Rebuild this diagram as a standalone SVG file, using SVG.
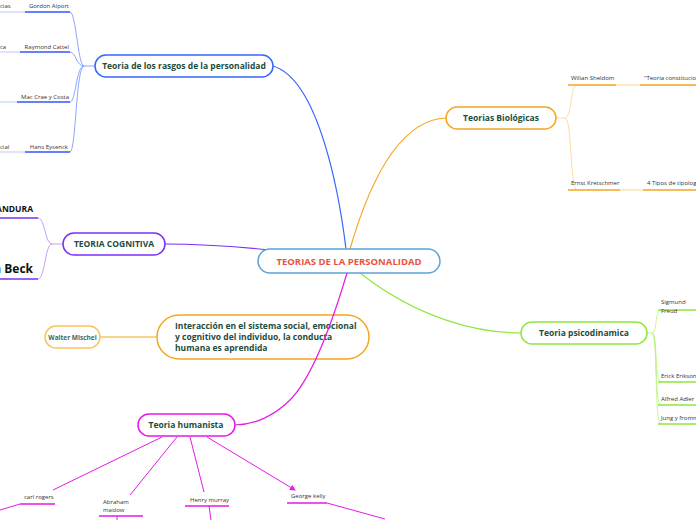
<svg xmlns="http://www.w3.org/2000/svg" width="696" height="520" viewBox="0 0 696 520">
<style>
text{font-family:"Open Sans","Noto Sans",sans-serif}
.n{fill:#fff;stroke-width:1.5}
.t{font-weight:bold;font-size:8.5px;fill:#1d4d3c}
.l{font-size:6px;fill:#333}
.c{fill:none;stroke-width:1.2}
</style>
<defs>
<marker id="ah" markerWidth="6" markerHeight="6" refX="5" refY="3" orient="auto" markerUnits="userSpaceOnUse"><path d="M0,0L6,3L0,6z" fill="#e619e6"/></marker>
</defs>
<rect width="696" height="520" fill="#fff"/>
<g id="connectors">
<path class="c" stroke="#3366ff" d="M346,249C340,200 320,80 273,66"/>
<path class="c" stroke="#7b2ff7" d="M270,250C230,246 200,244 165,244"/>
<path class="c" stroke="#f5a623" d="M350,249C370,180 400,120 446,118"/>
<path class="c" stroke="#8ee83a" d="M360,273C420,320 480,333 521,333"/>
<path class="c" stroke="#f5a623" d="M100,337H157"/>
<g stroke="#6f8fff" fill="none" stroke-width="0.8">
<path d="M95,66H84C78,66 76,12 70,12M84,66C76,66 76,52 70,52M84,66C76,66 76,102 70,102M84,66C76,66 76,152 70,152"/>
<path d="M25,12H0M20,52H0M17,102H0M25,152H0" stroke="#aabbff"/>
</g>
<g stroke="#3355ff" stroke-width="1.5"><path d="M25,12H70M20,52H70M17,102H70M25,152H70"/></g>
<g stroke="#a98af7" fill="none" stroke-width="0.8"><path d="M63,244H52C45,244 45,218 38,218M52,244C45,244 45,279 38,279"/></g>
<g stroke="#7b2ff7" stroke-width="1.5"><path d="M0,218H38M0,279H38"/></g>
<g stroke="#fcd38a" fill="none" stroke-width="0.8"><path d="M556,118H565C572,118 570,85 577,85M565,118C572,118 570,190 577,190"/></g>
<g stroke="#f5a623" stroke-width="1.5"><path d="M568,85H616M640,85H696M568,190H620M643,190H696"/></g>
<g stroke="#fde3b8" stroke-width="1.5"><path d="M616,85H640M620,190H643"/></g>
<g stroke="#b9f27f" fill="none" stroke-width="0.8"><path d="M647,333H652C658,333 654,310 661,310M652,333C658,333 654,382 661,382M652,333C658,333 654,405 661,405M652,333C658,333 654,424 661,424"/></g>
<g stroke="#8ee83a" stroke-width="1.5"><path d="M658,310H696M658,382H696M658,405H696M658,424H696"/></g>
<g stroke="#e619e6" stroke-width="1" marker-end="url(#ah)"><path d="M162,437L53,490M177,437L130,495M190,437L204,492M207,437L295,490"/></g>
<g stroke="#e619e6" stroke-width="1"><path d="M20,504L0,510M117,516V520M209,506L211,520M327,503L385,519"/></g>
<g stroke="#e619e6" stroke-width="1.5"><path d="M20,504H55M99,516H143M185,506H229M287,503H327"/></g>
</g>
<g id="central"><rect class="n" x="258" y="249" width="182" height="24" rx="12" stroke="#5ba3d9"/><text x="349" y="265" text-anchor="middle" font-weight="bold" font-size="9.5" fill="#e8533f">TEORIAS DE LA PERSONALIDAD</text></g>
<g id="rasgos"><rect class="n" x="95" y="55" width="178" height="22" rx="11" stroke="#3366ff"/><text class="t" x="184" y="69" text-anchor="middle">Teoria de los rasgos de la personalidad</text></g>
<g id="rasgos-leaves">
<text class="l" x="0" y="8">cias</text><text class="l" x="69" y="8" text-anchor="end">Gordon Alport</text>
<text class="l" x="0" y="49">ca</text><text class="l" x="69" y="49" text-anchor="end">Raymond Cattel</text>
<text class="l" x="69" y="99" text-anchor="end">Mac Crae y Costa</text>
<text class="l" x="0" y="149">cial</text><text class="l" x="68" y="149" text-anchor="end">Hans Eysenck</text>
</g>
<g id="cognitiva"><rect class="n" x="63" y="233" width="102" height="22" rx="11" stroke="#7b2ff7"/><text class="t" x="114" y="247" text-anchor="middle" font-size="8">TEORIA COGNITIVA</text></g>
<g id="bandura"><text x="33" y="212" text-anchor="end" font-weight="bold" font-size="8.5" fill="#111">ANDURA</text></g>
<g id="beck"><text x="33" y="273" text-anchor="end" font-weight="bold" font-size="12" fill="#111">n Beck</text></g>
<g id="biologicas"><rect class="n" x="446" y="107" width="110" height="22" rx="11" stroke="#f5a623"/><text class="t" x="501" y="121" text-anchor="middle">Teorias Biológicas</text></g>
<g id="bio-leaves">
<text class="l" x="571" y="80">Wilian Sheldom</text><text class="l" x="644" y="80">"Teoria constitucio</text>
<text class="l" x="571" y="185">Ernst Kretschmer</text><text class="l" x="647" y="185">4 Tipos de tipolog</text>
</g>
<g id="psicodinamica"><rect class="n" x="521" y="322" width="126" height="22" rx="11" stroke="#8ee83a"/><text class="t" x="584" y="336" text-anchor="middle">Teoria psicodinamica</text></g>
<g id="psico-leaves">
<text class="l" x="661" y="304">Sigmund</text><text class="l" x="661" y="313">Freud</text>
<text class="l" x="661" y="378">Erick Erikson</text>
<text class="l" x="661" y="401">Alfred Adler</text>
<text class="l" x="661" y="420">Jung  y fromm</text>
</g>
<g id="interaccion"><rect class="n" x="157" y="315" width="212" height="44" rx="22" stroke="#f5a623"/>
<text class="t" font-size="8"><tspan x="175" y="329">Interacción en el sistema social, emocional</tspan><tspan x="175" y="340">y cognitivo del individuo, la conducta</tspan><tspan x="175" y="351">humana es aprendida</tspan></text></g>
<g id="mischel"><rect class="n" x="45" y="326" width="55" height="22" rx="11" stroke="#fbc35a"/><text x="72.5" y="340" text-anchor="middle" font-weight="bold" font-size="6.5" fill="#3e6a5c">Walter Mischel</text></g>
<path class="c" stroke="#e619e6" d="M347,273C330,330 310,380 290,400C275,415 255,425 235,425"/>
<g id="humanista"><rect class="n" x="138" y="414" width="97" height="22" rx="11" stroke="#e619e6"/><text class="t" x="186" y="428" text-anchor="middle">Teoria humanista</text></g>
<g id="human-leaves">
<text class="l" x="24" y="499">carl rogers</text>
<text class="l" x="103" y="504">Abraham</text><text class="l" x="103" y="512">maslow</text>
<text class="l" x="190" y="502">Henry murray</text>
<text class="l" x="291" y="498">George kelly</text>
</g>
</svg>
